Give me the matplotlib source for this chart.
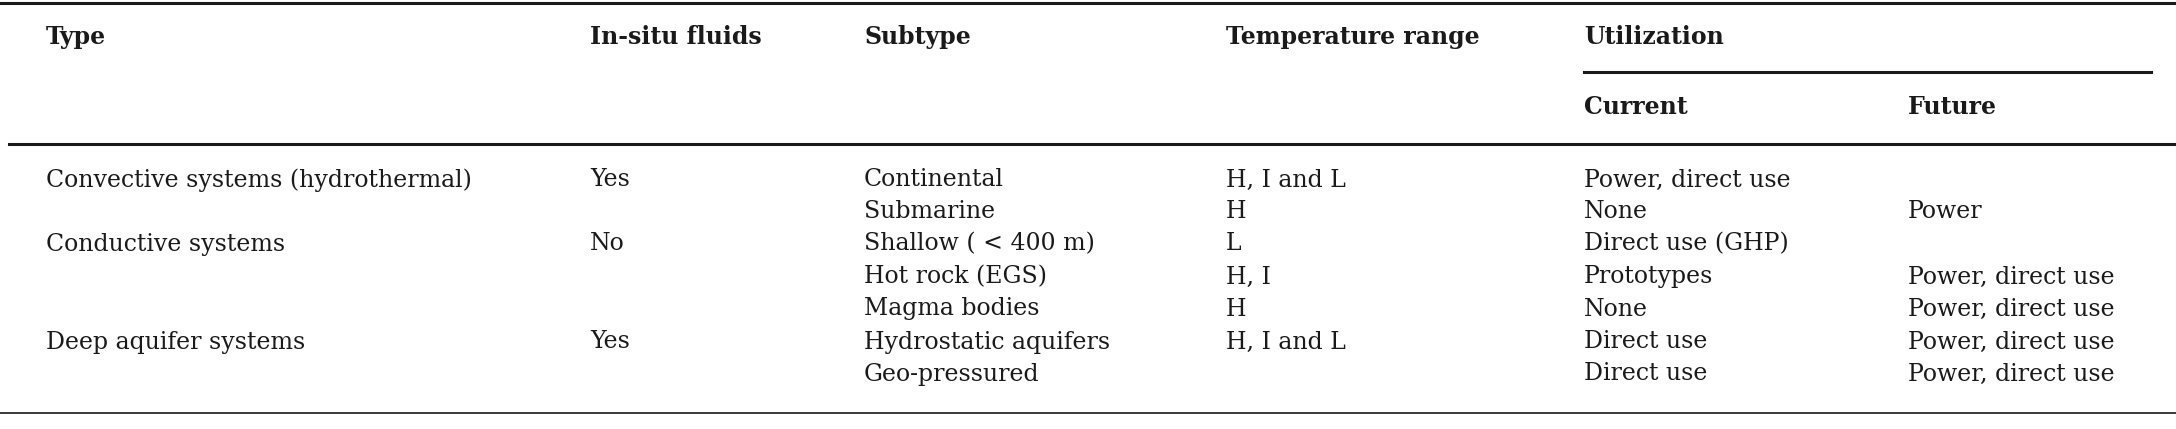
import matplotlib
matplotlib.use("Agg")
import matplotlib.pyplot as plt

W, H = 2176, 429
types = ["Convective systems (hydrothermal)", "", "Conductive systems", "", "", "Deep aquifer systems", ""]
fluids = ["Yes", "", "No", "", "", "Yes", ""]
subtypes = ["Continental", "Submarine", "Shallow ( < 400 m)", "Hot rock (EGS)", "Magma bodies",
            "Hydrostatic aquifers", "Geo-pressured"]
temps = ["H, I and L", "H", "L", "H, I", "H", "H, I and L", ""]
current = ["Power, direct use", "None", "Direct use (GHP)", "Prototypes", "None", "Direct use", "Direct use"]
future = ["", "Power", "", "Power, direct use", "Power, direct use", "Power, direct use", "Power, direct use"]
headers = ["Type", "In-situ fluids", "Subtype", "Temperature range", "Utilization"]
subheaders = ["Current", "Future"]

fig = plt.figure(figsize=(W/100, H/100), dpi=100)
ax = fig.add_axes([0, 0, 1, 1])
ax.set_xlim(0, W); ax.set_ylim(H, 0); ax.axis("off")

font = "DejaVu Serif"
fs = 17
c = "#1a1a1a"
colx = [46, 590, 864, 1226, 1584, 1908]
for x, h in zip(colx[:5], headers):
    ax.text(x, 37, h, fontsize=fs, fontweight="bold", family=font, va="center", ha="left", color=c)
for x, h in zip(colx[4:], subheaders):
    ax.text(x, 107, h, fontsize=fs, fontweight="bold", family=font, va="center", ha="left", color=c)

rows_y = [180, 212, 244, 277, 309, 342, 374]
for i, y in enumerate(rows_y):
    for x, col in zip(colx, [types, fluids, subtypes, temps, current, future]):
        if col[i]:
            ax.text(x, y, col[i], fontsize=fs, family=font, va="center", ha="left", color=c)

ax.plot([0, W], [3, 3], color=c, lw=2.2)
ax.plot([1584, 2151], [72, 72], color=c, lw=2.2)
ax.plot([9, W], [144, 144], color=c, lw=2.2)
ax.plot([0, W], [413, 413], color=c, lw=1.2)

fig.savefig("out.png", dpi=100)
